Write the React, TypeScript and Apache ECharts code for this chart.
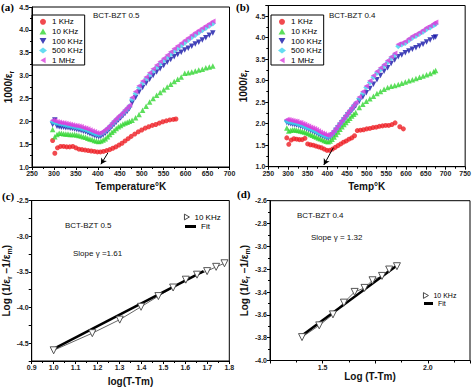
import React, { useEffect, useRef } from 'react';
import * as echarts from 'echarts';

// ---------- Panel (a): BCT-BZT 0.5 ----------
const freqNames = ['1 KHz', '10 KHz', '100 KHz', '500 KHz', '1 MHz'];

const aTempsUpper = [297, 302, 307, 312, 317, 322, 327, 332, 337, 342, 347, 352, 357, 362, 367, 372, 377, 382, 387, 392, 397, 402, 407, 412, 417, 422, 427, 432, 437, 442, 447, 452, 457, 462, 467, 472,
  478, 486, 494, 502, 510, 518, 526, 534, 542, 550, 558, 566, 574, 582, 590, 598, 606, 614, 622, 630, 638, 646, 654, 662];
const a10k = [1.82, 1.66, 1.71, 1.74, 1.74, 1.73, 1.72, 1.72, 1.71, 1.71, 1.71, 1.70, 1.69, 1.68, 1.66, 1.65, 1.63, 1.61, 1.60, 1.58, 1.57, 1.56, 1.57, 1.59, 1.62, 1.66, 1.71, 1.76, 1.80, 1.84, 1.88, 1.91, 1.94, 1.96, 1.98, 2.00,
  2.02, 2.08, 2.15, 2.24, 2.33, 2.42, 2.50, 2.57, 2.63, 2.69, 2.75, 2.81, 2.87, 2.92, 2.97, 3.05, 3.06, 3.08, 3.10, 3.12, 3.14, 3.17, 3.19, 3.21];
const a100k = [1.93, 2.03, 1.89, 1.88, 1.87, 1.87, 1.86, 1.86, 1.85, 1.84, 1.83, 1.82, 1.81, 1.80, 1.78, 1.77, 1.75, 1.73, 1.71, 1.69, 1.67, 1.66, 1.67, 1.70, 1.74, 1.78, 1.83, 1.88, 1.93, 1.98, 2.03, 2.07, 2.12, 2.17, 2.22, 2.28,
  2.40, 2.52, 2.64, 2.74, 2.83, 2.92, 3.00, 3.08, 3.15, 3.22, 3.29, 3.35, 3.41, 3.46, 3.51, 3.56, 3.60, 3.64, 3.69, 3.73, 3.78, 3.83, 3.88, 3.93];
const a500k = [1.99, 1.98, 1.96, 1.95, 1.94, 1.93, 1.92, 1.91, 1.90, 1.89, 1.88, 1.87, 1.86, 1.85, 1.83, 1.82, 1.80, 1.78, 1.76, 1.74, 1.72, 1.71, 1.72, 1.75, 1.79, 1.83, 1.88, 1.93, 1.98, 2.03, 2.08, 2.12, 2.17, 2.22, 2.27, 2.33,
  2.48, 2.61, 2.74, 2.84, 2.93, 3.02, 3.10, 3.18, 3.26, 3.33, 3.40, 3.47, 3.54, 3.60, 3.66, 3.72, 3.78, 3.84, 3.89, 3.94, 3.99, 4.04, 4.09, 4.14];
const a1M = [2.02, 2.01, 1.99, 1.98, 1.97, 1.96, 1.95, 1.94, 1.93, 1.92, 1.91, 1.90, 1.89, 1.88, 1.86, 1.85, 1.83, 1.81, 1.79, 1.77, 1.75, 1.74, 1.75, 1.78, 1.82, 1.86, 1.91, 1.96, 2.01, 2.06, 2.11, 2.15, 2.20, 2.25, 2.30, 2.35,
  2.52, 2.65, 2.78, 2.88, 2.97, 3.06, 3.15, 3.23, 3.31, 3.38, 3.45, 3.52, 3.59, 3.65, 3.71, 3.77, 3.83, 3.89, 3.94, 3.99, 4.04, 4.09, 4.14, 4.19];
const aTemps1k = [297, 302, 308, 315, 322, 329, 336, 343, 350, 357, 364, 371, 378, 385, 392, 399, 406, 413, 420, 427, 434, 441, 448, 455, 462, 469, 476, 484, 492, 500, 508, 516, 524, 532, 540, 548, 556, 564, 572, 578];
const a1k = [1.58, 1.30, 1.42, 1.45, 1.45, 1.44, 1.44, 1.45, 1.42, 1.39, 1.38, 1.37, 1.36, 1.35, 1.34, 1.33, 1.33, 1.34, 1.36, 1.38, 1.41, 1.44, 1.48, 1.52, 1.57, 1.62, 1.67, 1.72, 1.77, 1.81, 1.85, 1.88, 1.91, 1.93, 1.96, 1.99, 2.01, 2.03, 2.04, 2.05];
const aArrow = [[423, 1.31], [407, 1.06]];

// ---------- Panel (b): BCT-BZT 0.4 ----------
const bTempsUpper = [297, 302, 307, 312, 317, 322, 327, 332, 337, 342, 347, 352, 357, 362, 367, 372, 377, 382, 387, 392, 397, 402, 407, 412, 417, 422, 427, 432, 437, 442, 447, 452, 457, 462, 467, 472,
  481, 490, 499, 508, 517, 526, 535, 544, 553, 562, 571, 580, 589, 598, 607, 616, 625, 634, 643, 652, 661, 670, 675];
const b10k = [1.90, 1.83, 1.85, 1.86, 1.86, 1.85, 1.84, 1.83, 1.82, 1.81, 1.79, 1.77, 1.75, 1.73, 1.71, 1.69, 1.67, 1.65, 1.63, 1.61, 1.59, 1.58, 1.60, 1.64, 1.69, 1.75, 1.81, 1.87, 1.93, 1.98, 2.03, 2.08, 2.13, 2.18, 2.22, 2.26,
  2.38, 2.45, 2.52, 2.58, 2.64, 2.70, 2.75, 2.80, 2.84, 2.87, 2.89, 2.91, 2.94, 2.97, 3.00, 3.02, 3.05, 3.08, 3.11, 3.14, 3.17, 3.21, 3.24];
const b100k = [2.03, 2.01, 2.00, 1.99, 1.98, 1.97, 1.96, 1.94, 1.93, 1.91, 1.89, 1.87, 1.85, 1.83, 1.81, 1.79, 1.76, 1.74, 1.72, 1.70, 1.68, 1.67, 1.69, 1.73, 1.78, 1.84, 1.90, 1.96, 2.02, 2.08, 2.14, 2.20, 2.25, 2.31, 2.36, 2.42,
  2.52, 2.62, 2.72, 2.82, 2.92, 3.02, 3.12, 3.22, 3.30, 3.40, 3.48, 3.56, 3.60, 3.65, 3.69, 3.73, 3.77, 3.81, 3.85, 3.90, 3.95, 4.00, 4.02];
const b500k = [2.06, 2.05, 2.04, 2.03, 2.02, 2.01, 1.99, 1.98, 1.96, 1.94, 1.92, 1.90, 1.88, 1.86, 1.84, 1.82, 1.79, 1.77, 1.75, 1.73, 1.71, 1.70, 1.72, 1.76, 1.81, 1.87, 1.93, 1.99, 2.05, 2.11, 2.17, 2.23, 2.29, 2.35, 2.41, 2.47,
  2.58, 2.71, 2.84, 2.96, 3.08, 3.18, 3.26, 3.34, 3.43, 3.52, 3.60, 3.80, 3.84, 3.88, 3.94, 4.00, 4.04, 4.09, 4.14, 4.20, 4.24, 4.29, 4.32];
const b1M = [2.10, 2.09, 2.08, 2.07, 2.06, 2.05, 2.03, 2.02, 2.00, 1.98, 1.96, 1.94, 1.92, 1.90, 1.88, 1.86, 1.83, 1.80, 1.78, 1.76, 1.74, 1.73, 1.75, 1.79, 1.84, 1.90, 1.96, 2.02, 2.08, 2.14, 2.20, 2.26, 2.32, 2.38, 2.44, 2.50,
  2.62, 2.75, 2.88, 3.00, 3.12, 3.22, 3.30, 3.38, 3.47, 3.56, 3.64, 3.85, 3.88, 3.92, 3.98, 4.04, 4.08, 4.13, 4.18, 4.24, 4.28, 4.33, 4.36];
const bTemps1k = [297, 302, 308, 315, 322, 329, 336, 343, 350, 357, 364, 371, 378, 385, 392, 399, 406, 413, 420, 427, 434, 441, 448, 455, 462, 469, 476, 484, 492, 500, 508, 516, 524, 532, 540, 548, 556, 564, 572, 584, 593];
const b1k = [1.67, 1.52, 1.62, 1.65, 1.64, 1.63, 1.63, 1.66, 1.53, 1.51, 1.50, 1.48, 1.46, 1.44, 1.41, 1.38, 1.38, 1.41, 1.45, 1.49, 1.53, 1.57, 1.60, 1.64, 1.67, 1.72, 1.84, 1.85, 1.86, 1.88, 1.89, 1.91, 1.92, 1.94, 1.95, 1.96, 1.96, 1.98, 2.02, 1.93, 1.88];
const bArrow = [[415, 1.44], [391, 1.04]];

// ---------- Panel (c): log fit, BCT-BZT 0.5 ----------
const cLogT = [1.0, 1.176, 1.301, 1.398, 1.477, 1.544, 1.602, 1.653, 1.699, 1.740, 1.778];
const cLogE = [-4.60, -4.36, -4.17, -3.99, -3.84, -3.72, -3.61, -3.54, -3.49, -3.43, -3.38];
const cFit = [[1.0, -4.58], [1.683, -3.49]];

// ---------- Panel (d): log fit, BCT-BZT 0.4 ----------
const dLogT = [1.402, 1.484, 1.549, 1.601, 1.652, 1.699, 1.737, 1.782, 1.816, 1.853];
const dLogE = [-3.795, -3.692, -3.596, -3.493, -3.399, -3.364, -3.297, -3.259, -3.203, -3.174];
const dFit = [[1.402, -3.78], [1.861, -3.156]];

const zip = (xs: number[], ys: number[]) => xs.map((x, i) => [x, ys[i]]);

const SANS = 'Liberation Sans, Arial, sans-serif';
const SERIF = 'Liberation Serif, Times New Roman, serif';

const TRI_UP = 'path://M1,0L2,1.732L0,1.732Z';
const TRI_DOWN = 'path://M0,0L2,0L1,1.732Z';
const TRI_LEFT = 'path://M1.732,0L1.732,2L0,1Z';
const TRI_RIGHT = 'path://M0,0L1.732,1L0,2Z';

const markers = [
  { symbol: 'circle', color: '#ee1d23', size: 5 },
  { symbol: TRI_UP, color: '#33d633', size: 5.5 },
  { symbol: TRI_DOWN, color: '#1414a8', size: 5.5 },
  { symbol: 'diamond', color: '#3fd3ee', size: 6 },
  { symbol: TRI_LEFT, color: '#dc3fdc', size: 5.5 },
];

const subRich = {
  s: { fontSize: 7, fontWeight: 'bold', fontFamily: SANS, color: '#111', verticalAlign: 'bottom', padding: [6, 0, 0, 0] },
};
const axisNameStyle = { fontSize: 10, fontWeight: 'bold', fontFamily: SANS, color: '#111', rich: subRich };

function axisBase(extra: any) {
  return {
    axisLine: { show: true, onZero: false, lineStyle: { color: '#000', width: 1 } },
    axisTick: { show: true, inside: false, length: 3, lineStyle: { color: '#000' } },
    minorTick: { show: true, splitNumber: 2, length: 2, lineStyle: { color: '#000' } },
    splitLine: { show: false },
    minorSplitLine: { show: false },
    nameLocation: 'middle',
    nameTextStyle: axisNameStyle,
    ...extra,
    axisLabel: { fontSize: 7, fontWeight: 'bold', color: '#222', fontFamily: SANS, margin: 3, ...(extra.axisLabel || {}) },
  };
}

function buildOption() {
  const scatterSets = [
    { grid: 0, sets: [[aTemps1k, a1k], [aTempsUpper, a10k], [aTempsUpper, a100k], [aTempsUpper, a500k], [aTempsUpper, a1M]], arrow: aArrow },
    { grid: 1, sets: [[bTemps1k, b1k], [bTempsUpper, b10k], [bTempsUpper, b100k], [bTempsUpper, b500k], [bTempsUpper, b1M]], arrow: bArrow },
  ];
  const series: any[] = [];
  scatterSets.forEach((p) => {
    p.sets.forEach(([xs, ys], i) => {
      const m = markers[i];
      const s: any = {
        type: 'scatter',
        name: freqNames[i],
        xAxisIndex: p.grid,
        yAxisIndex: p.grid,
        data: zip(xs as number[], ys as number[]),
        symbol: m.symbol,
        symbolSize: m.size,
        itemStyle: { color: m.color },
        silent: true,
      };
      if (i === 0) {
        s.markLine = {
          silent: true,
          symbol: ['none', 'arrow'],
          symbolSize: [5, 6],
          label: { show: false },
          lineStyle: { color: '#000', width: 1, type: 'solid' },
          data: [[{ coord: p.arrow[0] }, { coord: p.arrow[1] }]],
        };
      }
      series.push(s);
    });
  });

  const logPanels = [
    { grid: 2, id: 'c', xs: cLogT, ys: cLogE, fit: cFit },
    { grid: 3, id: 'd', xs: dLogT, ys: dLogE, fit: dFit },
  ];
  logPanels.forEach((p) => {
    series.push({
      type: 'line',
      name: p.id + '-data',
      xAxisIndex: p.grid,
      yAxisIndex: p.grid,
      data: zip(p.xs, p.ys),
      symbol: TRI_DOWN,
      symbolSize: 7,
      showAllSymbol: true,
      lineStyle: { color: '#666', width: 1 },
      itemStyle: { color: '#fff', borderColor: '#444', borderWidth: 0.9 },
      silent: true,
    });
    series.push({
      type: 'line',
      name: p.id + '-fit',
      xAxisIndex: p.grid,
      yAxisIndex: p.grid,
      data: p.fit,
      symbol: 'none',
      lineStyle: { color: '#000', width: 2.5 },
      itemStyle: { color: '#000' },
      silent: true,
    });
  });

  const titleText = (text: string, left: number, top: number, size = 8) => ({
    text, left, top, padding: 0,
    textStyle: { fontSize: size, fontWeight: 'normal', fontFamily: SANS, color: '#111' },
  });
  const panelLabel = (text: string, left: number, top: number) => ({
    text, left, top, padding: 0,
    textStyle: { fontSize: 11, fontWeight: 'bold', fontFamily: SERIF, color: '#000' },
  });

  const freqLegend = (left: number, top: number) => ({
    orient: 'vertical', left, top,
    data: freqNames,
    selectedMode: false,
    itemWidth: 8, itemHeight: 6, itemGap: 0,
    padding: [2, 2, 0, 7],
    borderColor: '#000', borderWidth: 1,
    textStyle: { fontSize: 8, fontFamily: SANS, color: '#000', lineHeight: 9.6 },
  });
  const markLegend = (name: string, left: number, top: number, size: number) => ({
    left, top, padding: 0, selectedMode: false,
    itemWidth: 5, itemHeight: 6,
    data: [{ name, icon: TRI_RIGHT, itemStyle: { color: '#fff', borderColor: '#333', borderWidth: 0.9 } }],
    formatter: () => '10 KHz',
    textStyle: { fontSize: size, fontFamily: SANS, color: '#000' },
  });
  const fitLegend = (name: string, left: number, top: number, w: number, size: number) => ({
    left, top, padding: 0, selectedMode: false,
    itemWidth: w, itemHeight: 3,
    data: [{ name, icon: 'rect', itemStyle: { color: '#000' } }],
    formatter: () => 'Fit',
    textStyle: { fontSize: size, fontFamily: SANS, color: '#000' },
  });

  return {
    animation: false,
    backgroundColor: '#fff',
    textStyle: { fontFamily: SANS },
    title: [
      panelLabel('(a)', 1, 1),
      panelLabel('(b)', 236, 1),
      panelLabel('(c)', 2, 190),
      panelLabel('(d)', 237, 188),
      titleText('BCT-BZT 0.5', 93, 11),
      titleText('BCT-BZT 0.4', 329, 11),
      titleText('BCT-BZT 0.5', 65, 221),
      titleText('Slope \u03b3 =1.61', 73, 249),
      titleText('BCT-BZT 0.4', 297, 211),
      titleText('Slope \u03b3 = 1.32', 311, 233),
    ],
    legend: [
      freqLegend(32, 15),
      freqLegend(271, 15),
      markLegend('c-data', 184, 213, 8),
      fitLegend('c-fit', 185, 222.5, 11, 8),
      markLegend('d-data', 423, 292, 7),
      fitLegend('d-fit', 424, 300, 9, 7),
    ],
    grid: [
      { left: 32, top: 7, width: 197.5, height: 160, show: true, borderColor: '#000', borderWidth: 1, backgroundColor: 'transparent' },
      { left: 268.3, top: 5.5, width: 200, height: 161.2, show: true, borderColor: '#000', borderWidth: 1, backgroundColor: 'transparent' },
      { left: 31.7, top: 200.5, width: 197.6, height: 160.5, show: true, borderColor: '#000', borderWidth: 1, backgroundColor: 'transparent' },
      { left: 270, top: 200.7, width: 200, height: 159.8, show: true, borderColor: '#000', borderWidth: 1, backgroundColor: 'transparent' },
    ],
    xAxis: [
      axisBase({ type: 'value', gridIndex: 0, min: 250, max: 700, interval: 50, name: 'Temperature\u00b0K', nameGap: 14 }),
      axisBase({ type: 'value', gridIndex: 1, min: 250, max: 750, interval: 50, name: 'Temp\u00b0K', nameGap: 15 }),
      axisBase({
        type: 'value', gridIndex: 2, min: 0.9, max: 1.8, interval: 0.1, name: 'log(T-Tm)', nameGap: 15,
        axisLabel: { formatter: (v: number) => v.toFixed(1) },
      }),
      axisBase({
        type: 'value', gridIndex: 3, min: 1.25, max: 2.2, interval: 0.25, name: 'Log (T-Tm)', nameGap: 10,
        axisLabel: {
          showMaxLabel: false,
          formatter: (v: number) => (Math.abs(v * 2 - Math.round(v * 2)) < 1e-6 ? v.toFixed(1) : ''),
        },
      }),
    ],
    yAxis: [
      axisBase({
        type: 'value', gridIndex: 0, min: 1.0, max: 4.5, interval: 0.5, name: '1000/\u03b5{s|r}', nameGap: 17,
        axisLabel: { formatter: (v: number) => v.toFixed(1) },
      }),
      axisBase({
        type: 'value', gridIndex: 1, min: 1.0, max: 4.75, interval: 0.5, name: '1000/\u03b5{s|r}', nameGap: 18,
        axisLabel: { showMaxLabel: false, formatter: (v: number) => v.toFixed(1) },
      }),
      axisBase({
        type: 'value', gridIndex: 2, min: -4.75, max: -2.5, interval: 0.25, name: 'Log (1/\u03b5{s|r} \u22121/\u03b5{s|m})', nameGap: 16,
        minorTick: { show: false },
        axisLabel: { formatter: (v: number) => (Math.abs(v * 2 - Math.round(v * 2)) < 1e-6 ? v.toFixed(1) : '') },
      }),
      axisBase({
        type: 'value', gridIndex: 3, min: -4.0, max: -2.6, interval: 0.2, name: 'Log (1/\u03b5{s|r} \u22121/\u03b5{s|m})', nameGap: 18,
        axisLabel: { formatter: (v: number) => v.toFixed(1) },
      }),
    ],
    series,
  };
}

export default function App() {
  const ref = useRef<HTMLDivElement>(null);
  useEffect(() => {
    if (!ref.current) return;
    const chart = echarts.init(ref.current, undefined, { renderer: 'svg' });
    chart.setOption(buildOption() as any);
    return () => chart.dispose();
  }, []);
  return (
    <div
      ref={ref}
      style={{ position: 'fixed', left: 0, top: 0, width: 474, height: 387, background: '#fff' }}
    />
  );
}
